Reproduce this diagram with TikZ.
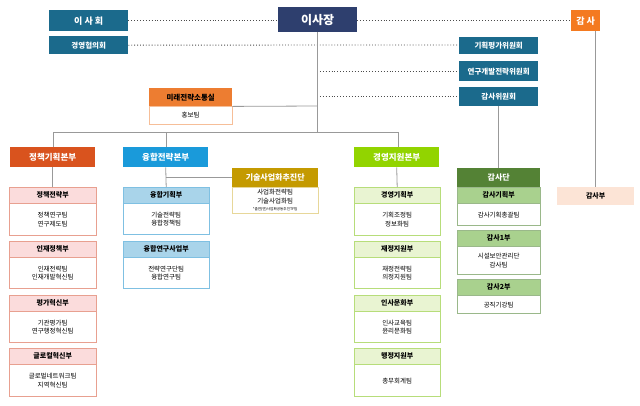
\documentclass[tikz,border=0pt]{standalone}
\usepackage{fontspec}
\setmainfont{Noto Sans CJK KR}
\begin{document}
\begin{tikzpicture}[x=1pt,y=-1pt,
  box/.style={draw,anchor=north west,inner sep=0pt,align=center,font=\fontsize{6.5}{8.5}\selectfont},
  hdr/.style={box,font=\bfseries\fontsize{7}{8}\selectfont},
  top/.style={draw=none,anchor=north west,inner sep=0pt,text=white,font=\bfseries\fontsize{7.5}{9}\selectfont},
  ln/.style={draw=gray!80,line width=0.8pt},
  dot/.style={draw=black!70,line width=0.9pt,dotted}]
\useasboundingbox (0,0) rectangle (640,405);
\fill[white] (0,0) rectangle (640,405);
\definecolor{navy}{HTML}{2E3F6E}
\definecolor{teal}{HTML}{1B6A8C}
\definecolor{org}{HTML}{F47A20}
\definecolor{org2}{HTML}{ED7D31}
\definecolor{red}{HTML}{D9531E}
\definecolor{blu}{HTML}{1A9ADA}
\definecolor{lime}{HTML}{92D400}
\definecolor{gold}{HTML}{C49A00}
\definecolor{dgreen}{HTML}{548235}
\definecolor{pinkf}{HTML}{FBDCDC}\definecolor{pinkd}{HTML}{E8A090}
\definecolor{bluef}{HTML}{A9D4EA}\definecolor{blued}{HTML}{7FC0E2}
\definecolor{grnf}{HTML}{E9F4D2}\definecolor{grnd}{HTML}{B7DD7A}
\definecolor{agrf}{HTML}{A9D18E}\definecolor{agrd}{HTML}{9AB88A}
\definecolor{peach}{HTML}{FCE4D6}
% macro: id, pos, w, body h, fill, border, title, body
\newcommand\dept[8]{%
  \node[hdr,fill=#5,draw=#6,minimum width=#3,minimum height=16] (#1h) at (#2) {#7};
  \node[box,draw=#6,minimum width=#3,minimum height=#4,anchor=north west] (#1b) at (#1h.south west) {#8};
  \draw[#6,line width=0.8pt] (#1h.north west) rectangle (#1b.south east);}
% top row
\node[top,fill=navy,minimum width=79,minimum height=25,font=\bfseries\fontsize{12}{14}\selectfont] (ceo) at (278,7) {이사장};
\node[top,fill=teal,minimum width=79,minimum height=21,font=\bfseries\fontsize{9}{10}\selectfont] (board) at (49,10) {이 사 회};
\node[top,fill=teal,minimum width=79,minimum height=18] (mgmt) at (49,36) {경영협의회};
\node[top,fill=org,minimum width=29,minimum height=21,font=\bfseries\fontsize{9}{10}\selectfont] (aud) at (571,10) {감 사};
\node[top,fill=teal,minimum width=79,minimum height=17] (c1) at (459,37) {기획평가위원회};
\node[top,fill=teal,minimum width=79,minimum height=20] (c2) at (459,61) {연구개발전략위원회};
\node[top,fill=teal,minimum width=79,minimum height=19] (c3) at (459,87) {감사위원회};
\coordinate (j0) at (317,32);
\coordinate (jm) at (317,45);
\coordinate (j2) at (317,71);
\coordinate (j3) at (317,96);
\coordinate (jf) at (317,106);
\coordinate (jb) at (317,132);
\draw[dot] (board.east) -- (ceo.west |- board.east);
\draw[dot] (ceo.east |- aud.west) -- (aud.west);
\draw[dot] (mgmt.east) -- (jm) -- (c1.west |- jm);
\draw[dot] (j2) -- (c2.west |- j2);
\draw[dot] (j3) -- (c3.west |- j3);
% future strategy
\node[top,fill=org2,minimum width=83,minimum height=18,text=black] (fut) at (149,88) {미래전략소통실};
\node[box,draw=org2!50,minimum width=83,minimum height=18] (pr) at (149,106) {홍보팀};
% divisions
\node[top,fill=red,minimum width=85,minimum height=20,font=\bfseries\fontsize{8.5}{10}\selectfont] (d1) at (10,147) {정책기획본부};
\node[top,fill=blu,minimum width=85,minimum height=20,font=\bfseries\fontsize{8.5}{10}\selectfont] (d2) at (123,147) {융합전략본부};
\node[top,fill=lime,minimum width=85,minimum height=20,font=\bfseries\fontsize{8.5}{10}\selectfont] (d3) at (354,147) {경영지원본부};
\node[top,fill=gold,minimum width=86,minimum height=19,font=\bfseries\fontsize{8}{10}\selectfont] (tc) at (232,168) {기술사업화추진단};
\node[box,draw=gold!40,minimum width=86,minimum height=26] (tcb) at (232,187) {사업화전략팀\\기술사업화팀\\[-1pt]{\fontsize{3.6}{4}\selectfont *출연(연)사업화공동추진TF팀}};
\node[top,fill=dgreen,minimum width=83,minimum height=19,font=\bfseries\fontsize{8}{10}\selectfont] (ad) at (457,168) {감사단};
% trunk lines
\draw[ln] (j0) -- (jb);
\draw[ln] (pr.east |- fut.south) -- (jf);
\coordinate (b1) at (53,132); \coordinate (b2) at (166,132); \coordinate (b3) at (398,132);
\draw[ln] (d1.north -| b1) -- (b1) -- (b3) -- (d3.north -| b3);
\draw[ln] (b2) -- (d2.north -| b2);
% departments
\dept{p1}{9,187}{87}{32}{pinkf}{pinkd}{정책전략부}{정책연구팀\\연구제도팀}
\dept{p2}{9,241}{87}{31}{pinkf}{pinkd}{인재정책부}{인재전략팀\\인재개발혁신팀}
\dept{p3}{9,295}{87}{31}{pinkf}{pinkd}{평가혁신부}{기관평가팀\\연구행정혁신팀}
\dept{p4}{9,348}{87}{32}{pinkf}{pinkd}{글로컬혁신부}{글로벌네트워크팀\\지역혁신팀}
\dept{u1}{123,187}{86}{31}{bluef}{blued}{융합기획부}{기술전략팀\\융합정책팀}
\dept{u2}{123,241}{86}{31}{bluef}{blued}{융합연구사업부}{전략연구단팀\\융합연구팀}
\dept{g1}{354,187}{86}{32}{grnf}{grnd}{경영기획부}{기획조정팀\\정보화팀}
\dept{g2}{354,241}{86}{31}{grnf}{grnd}{재정지원부}{재정전략팀\\의정지원팀}
\dept{g3}{354,295}{86}{31}{grnf}{grnd}{인사문화부}{인사교육팀\\윤리문화팀}
\dept{g4}{354,348}{86}{32}{grnf}{grnd}{행정지원부}{총무회계팀}
\dept{a1}{457,187}{83}{22}{agrf}{agrd}{감사기획부}{감사기획총괄팀}
\dept{a2}{457,230}{83}{28}{agrf}{agrd}{감사1부}{시설보안관리단\\감사팀}
\dept{a3}{457,279}{83}{18}{agrf}{agrd}{감사2부}{공직기강팀}
\node[box,draw=none,fill=peach,minimum width=77,minimum height=18,font=\bfseries\fontsize{7}{8}\selectfont] (adb) at (557,187) {감사부};
% vertical links
\draw[ln] (d1.south) -- (p1h.north);
\draw[ln] (d2.south) -- (u1h.north);
\draw[ln] (d3.south) -- (g1h.north);
\draw[ln] (d2.south |- tc.west) -- (tc.west);
\draw[ln] (c3.south -| ad.north) -- (ad.north);
\draw[ln] (aud.south -| adb.north) -- (adb.north);
\end{tikzpicture}
\end{document}
